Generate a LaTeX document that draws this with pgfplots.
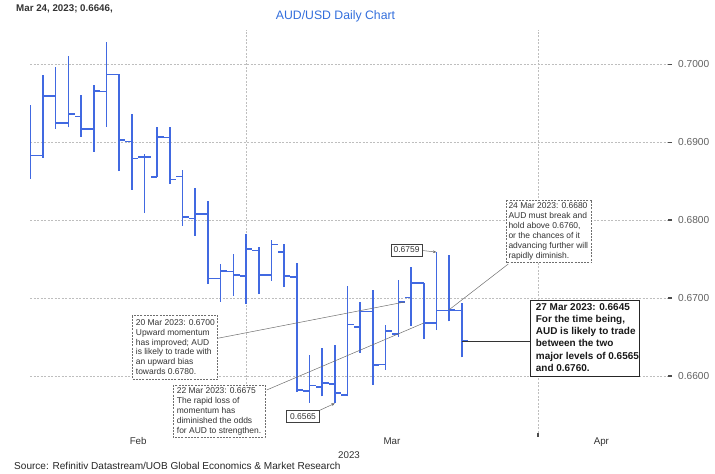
\documentclass[border=0pt]{standalone}
\usepackage{pgfplots}
\pgfplotsset{compat=1.18}
\usepackage{pgfplotstable}
\usetikzlibrary{arrows.meta}
\usepackage{fontspec}
\setmainfont{Liberation Sans}
\definecolor{barblue}{RGB}{65,105,225}
\definecolor{titleblue}{RGB}{50,110,220}
\definecolor{gridgray}{RGB}{190,190,190}
\definecolor{txtgray}{RGB}{51,51,51}
\definecolor{linegray}{RGB}{110,110,110}

\pgfplotstableread{
i o h l c
1 0.6883 0.6948 0.6853 0.6883
2 0.6883 0.6986 0.6880 0.6959
3 0.6959 0.6996 0.6917 0.6925
4 0.6925 0.7011 0.6919 0.6936
5 0.6933 0.6960 0.6907 0.6917
6 0.6917 0.6973 0.6888 0.6966
7 0.6965 0.7029 0.6920 0.6987
8 0.6987 0.6987 0.6863 0.6903
9 0.6901 0.6936 0.6839 0.6879
10 0.6881 0.6885 0.6809 0.6881
11 0.6855 0.6919 0.6855 0.6907
12 0.6906 0.6919 0.6847 0.6852
13 0.6856 0.6864 0.6793 0.6804
14 0.6802 0.6841 0.6780 0.6808
15 0.6808 0.6824 0.6718 0.6725
16 0.6725 0.6744 0.6695 0.6735
17 0.6734 0.6757 0.6703 0.6730
18 0.6728 0.6782 0.6693 0.6763
19 0.6761 0.6766 0.6705 0.6730
20 0.6730 0.6774 0.6722 0.6769
21 0.6759 0.6769 0.6714 0.6728
22 0.6727 0.6745 0.6580 0.6582
23 0.6581 0.6627 0.6566 0.6588
24 0.6586 0.6636 0.6574 0.6591
25 0.6590 0.6640 0.6565 0.6578
26 0.6576 0.6716 0.6574 0.6666
27 0.6663 0.6695 0.6630 0.6683
28 0.6683 0.6710 0.6589 0.6614
29 0.6615 0.6666 0.6608 0.6658
30 0.6654 0.6723 0.6650 0.6695
31 0.6701 0.6740 0.6664 0.6719
32 0.6719 0.6719 0.6648 0.6668
33 0.6668 0.6759 0.6659 0.6684
34 0.6684 0.6755 0.6670 0.6685
35 0.6684 0.6694 0.6624 0.6645
}\ohlc

\begin{document}
\begin{tikzpicture}[x=1bp,y=1bp]
\path[use as bounding box] (0,0) rectangle (715,474);
\begin{axis}[
  at={(30bp,41bp)}, anchor=south west,
  width=638bp, height=403bp, scale only axis,
  xmin=0.976, xmax=51.25, ymin=0.65269, ymax=0.70440,
  axis line style={draw=none},
  xtick={18,41}, xticklabels={},
  extra x ticks={9.5,29.5,46},
  extra x tick labels={Feb,Mar,Apr},
  extra x tick style={grid=none, major tick length=0pt},
  xtick pos=bottom, ytick pos=right, yticklabel pos=right,
  ytick={0.66,0.67,0.68,0.69,0.70},
  xmajorgrids, ymajorgrids,
  grid style={draw=gridgray, line width=0.6bp, dash pattern=on 2bp off 1.5bp},
  tick align=outside, major tick length=4bp,
  tick style={draw=black!70, line width=1.4bp},
  yticklabel style={/pgf/number format/fixed, /pgf/number format/fixed zerofill, /pgf/number format/precision=4, /pgf/number format/assume math mode=true,
    font=\fontsize{10.2}{11}\selectfont, text=black!62, anchor=west, inner sep=0pt, xshift=6bp},
  x tick label style={font=\fontsize{9.8}{11}\selectfont, text=txtgray, anchor=base, yshift=-12bp},
  xlabel={2023},
  xlabel style={font=\fontsize{9.8}{11}\selectfont, text=txtgray, at={(axis description cs:0.5,0)}, anchor=base, yshift=-25.5bp},
  clip=true,
]
\addplot[draw=none, mark=none, forget plot,
  error bars/.cd, y dir=plus, y explicit, error mark=none,
  error bar style={draw=barblue, line width=1.6bp, solid}]
  table[x=i, y=l, y error plus expr=\thisrow{h}-\thisrow{l}] {\ohlc};
\addplot[draw=none, mark=none, forget plot,
  error bars/.cd, x dir=minus, x fixed=0.5, error mark=none,
  error bar style={draw=barblue, line width=1.6bp, solid}]
  table[x=i, y=o] {\ohlc};
\addplot[draw=none, mark=none, forget plot,
  error bars/.cd, x dir=plus, x fixed=0.5, error mark=none,
  error bar style={draw=barblue, line width=1.6bp, solid}]
  table[x=i, y=c] {\ohlc};
\coordinate (b30) at (axis cs:30.5,0.6695);
\coordinate (b32) at (axis cs:32,0.6668);
\coordinate (b34) at (axis cs:34,0.6685);
\coordinate (b35) at (axis cs:35,0.6645);
\coordinate (b25) at (axis cs:25,0.6565);
\coordinate (b33) at (axis cs:33,0.6759);
\end{axis}

% titles
\node[anchor=base, font=\fontsize{12.3}{14}\selectfont, text=titleblue, inner sep=0pt] at (335.5,454) {AUD/USD Daily Chart};
\node[anchor=base west, font=\fontsize{9.8}{11}\selectfont\bfseries, text=txtgray, inner sep=0pt] at (16,462.3) {Mar 24, 2023; 0.6646,};
\node[anchor=base west, font=\fontsize{10.1}{11}\selectfont, text=black!85, inner sep=0pt] at (14,4.5) {Source: Refinitiv Datastream/UOB Global Economics \& Market Research};

% connectors
\draw[linegray, line width=0.5bp] (217.7,135.7) -- (b30);
\draw[linegray, line width=0.5bp] (266.7,84) -- (b32);
\draw[linegray, line width=0.5bp] (508.3,210) -- (b34);
\draw[black!80, line width=0.8bp] (b35) -- (b35 -| 530.7,0);
\draw[linegray, line width=0.5bp, -{Stealth[length=3.5bp,width=2.8bp]}] (319.3,63.5) -- (b25);
\draw[linegray, line width=0.5bp, -{Stealth[length=3.5bp,width=2.8bp]}] (422.3,223.5) -- (b33);

% boxes
\tikzset{dbox/.style={fill=white, draw=linegray, line width=0.6bp, dash pattern=on 2bp off 1.2bp}}
\draw[dbox] (132.3,158.3) rectangle (217.7,94.7);
\node[anchor=north west, align=left, inner sep=0pt, font=\fontsize{8.5}{10}\selectfont, text=txtgray] at (135.7,155) {20 Mar 2023: 0.6700\\Upward momentum\\has improved; AUD\\is likely to trade with\\an upward bias\\towards 0.6780.};

\draw[dbox] (173.3,89) rectangle (265,36.3);
\node[anchor=north west, align=left, inner sep=0pt, font=\fontsize{8.5}{10}\selectfont, text=txtgray] at (176.7,86.7) {22 Mar 2023: 0.6675\\The rapid loss of\\momentum has\\diminished the odds\\for AUD to strengthen.};

\draw[dbox] (506,274) rectangle (591.7,211.3);
\node[anchor=north west, align=left, inner sep=0pt, font=\fontsize{8.5}{10}\selectfont, text=txtgray] at (508.3,271.3) {24 Mar 2023: 0.6680\\AUD must break and\\hold above 0.6760,\\or the chances of it\\advancing further will\\rapidly diminish.};

\draw[fill=white, draw=black!75, line width=0.7bp] (286.7,64) rectangle (319.3,51.3);
\node[font=\fontsize{8.5}{10}\selectfont, text=txtgray, inner sep=0pt] at (303,57.6) {0.6565};
\draw[fill=white, draw=black!75, line width=0.7bp] (391,230) rectangle (422.3,218);
\node[font=\fontsize{8.5}{10}\selectfont, text=txtgray, inner sep=0pt] at (406.6,224) {0.6759};

\fill[black!30] (531.7,96.8) rectangle (640.3,173);
\draw[fill=white, draw=black!85, line width=0.7bp] (530.7,174) rectangle (639.3,98);
\node[anchor=north west, align=left, inner sep=0pt, font=\fontsize{10}{12.2}\selectfont\bfseries, text=black!90] at (535.7,170.7) {27 Mar 2023: 0.6645\\For the time being,\\AUD is likely to trade\\between the two\\major levels of 0.6565\\and 0.6760.};
\end{tikzpicture}
\end{document}
